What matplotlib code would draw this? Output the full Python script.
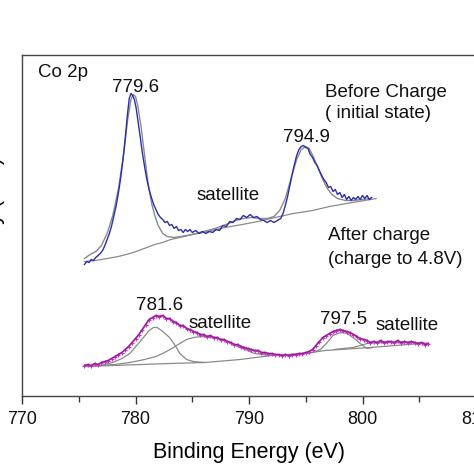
import matplotlib
matplotlib.use("Agg")
import matplotlib.pyplot as plt
from matplotlib.ticker import MultipleLocator

plt.rcParams['font.family'] = ['Liberation Sans', 'DejaVu Sans']

# before charge (initial state), Co 2p
E_before = [775.5, 775.7, 775.9, 776.1, 776.3, 776.5, 776.7, 776.9, 777.1, 777.3,
            777.5, 777.7, 777.9, 778.1, 778.3, 778.5, 778.7, 778.9, 779.1, 779.3,
            779.45, 779.6, 779.75, 779.9, 780.05, 780.2, 780.4, 780.6, 780.8, 781.0,
            781.2, 781.4, 781.6, 781.8, 782.0, 782.2, 782.4, 782.6, 782.8, 783.0,
            783.2, 783.4, 783.6, 783.8, 784.0, 784.2, 784.4, 784.6, 784.8, 785.0,
            785.3, 785.6, 785.9, 786.2, 786.5, 786.8, 787.1, 787.4, 787.7, 788.0,
            788.3, 788.6, 788.9, 789.2, 789.5, 789.8, 790.1, 790.4, 790.7, 791.0,
            791.3, 791.6, 791.9, 792.2, 792.5, 792.8, 793.0, 793.2, 793.4, 793.6,
            793.8, 794.0, 794.2, 794.4, 794.6, 794.8, 795.0, 795.2, 795.4, 795.6,
            795.8, 796.0, 796.2, 796.4, 796.6, 796.8, 797.0, 797.2, 797.4, 797.6,
            797.8, 798.0, 798.2, 798.4, 798.6, 798.8, 799.0, 799.2, 799.4, 799.6,
            799.8, 800.0, 800.2, 800.4, 800.6, 800.8]
I_before = [131, 134, 133, 136, 135, 138, 140, 142, 145, 150,
            156, 162, 170, 180, 190, 203, 218, 236, 258, 282,
            297, 302, 300, 296, 288, 276, 260, 243, 229, 216,
            206, 198, 191, 186, 181, 178, 176, 173, 174, 170,
            171, 167, 169, 165, 166, 163, 166, 164, 166, 163,
            165, 162, 164, 162, 164, 163, 166, 165, 170, 169,
            174, 173, 177, 176, 180, 178, 181, 178, 179, 176,
            175, 173, 175, 173, 175, 177, 182, 190, 199, 210,
            221, 231, 240, 246, 249, 250, 248, 247, 241, 238,
            233, 230, 225, 220, 216, 213, 208, 209, 204, 206,
            201, 203, 198, 201, 196, 199, 195, 198, 196, 199,
            196, 200, 197, 200, 196, 198]

E_before_fit = [775.5, 776.0, 776.5, 777.0, 777.5, 778.0, 778.5, 779.0, 779.3, 779.6,
                779.8, 780.0, 780.2, 780.5, 780.8, 781.1, 781.4, 781.7, 782.0, 782.4,
                782.8, 783.4, 784.0, 785.0, 786.0, 787.0, 788.0, 788.8, 789.5, 790.2,
                790.9, 791.6, 792.2, 792.7, 793.2, 793.7, 794.2, 794.6, 795.0, 795.3,
                795.7, 796.1, 796.5, 796.9, 797.3, 797.8, 798.5, 799.2, 800.0, 800.7]
I_before_fit = [137, 141, 144, 150, 162, 180, 207, 245, 275, 296,
                301, 299, 290, 268, 240, 213, 193, 180, 170, 162,
                159, 158, 159, 161, 164, 167, 171, 175, 177, 178,
                177, 177, 179, 185, 197, 217, 236, 246, 249, 247,
                238, 227, 216, 207, 201, 197, 195, 195, 196, 197]

E_before_bg = [775.5, 776.5, 777.5, 778.5, 779.5, 780.3, 781.0, 781.7, 782.4, 783.1,
               783.9, 785.0, 786.4, 787.9, 789.4, 790.8, 792.3, 793.9, 795.6, 797.1,
               798.6, 800.7, 801.2]
I_before_bg = [134, 135, 137, 139, 142, 145, 148, 151, 153, 156,
               158, 161, 164, 168, 171, 174, 178, 182, 185, 189,
               192, 196, 197]

# after charge to 4.8 V
E_after = [775.5, 775.8, 776.1, 776.4, 776.7, 777.0, 777.3, 777.6, 777.9, 778.2,
           778.5, 778.8, 779.1, 779.4, 779.7, 780.0, 780.3, 780.6, 780.9, 781.2,
           781.5, 781.8, 782.1, 782.4, 782.7, 783.0, 783.3, 783.6, 783.9, 784.2,
           784.5, 784.8, 785.1, 785.4, 785.7, 786.0, 786.3, 786.6, 786.9, 787.2,
           787.5, 787.8, 788.1, 788.4, 788.7, 789.0, 789.3, 789.6, 789.9, 790.2,
           790.5, 790.8, 791.1, 791.4, 791.7, 792.0, 792.3, 792.6, 792.9, 793.2,
           793.5, 793.8, 794.1, 794.4, 794.7, 795.0, 795.3, 795.6, 795.9, 796.2,
           796.5, 796.8, 797.1, 797.4, 797.7, 798.0, 798.3, 798.6, 798.9, 799.2,
           799.5, 799.8, 800.1, 800.4, 800.7, 801.0, 801.3, 801.6, 801.9, 802.2,
           802.5, 802.8, 803.1, 803.4, 803.7, 804.0, 804.3, 804.6, 804.9, 805.2,
           805.5, 805.8]
I_after = [30, 31, 30, 32, 31, 33, 34, 35, 37, 39,
           41, 43, 46, 49, 53, 57, 61, 66, 71, 76,
           78, 80, 79, 80, 77, 77, 74, 73, 70, 70,
           67, 66, 64, 63, 61, 61, 59, 60, 58, 58,
           56, 56, 54, 53, 51, 51, 49, 48, 47, 46,
           45, 45, 43, 43, 42, 42, 41, 41, 40, 41,
           40, 41, 41, 42, 42, 43, 44, 46, 50, 54,
           58, 60, 62, 64, 65, 66, 65, 64, 63, 61,
           59, 57, 56, 55, 53, 54, 53, 55, 53, 54,
           54, 53, 55, 53, 54, 53, 54, 53, 52, 53,
           51, 52]

E_after_bg = [775.5, 778.0, 780.5, 783.0, 786.1, 789.2, 792.0, 794.9, 796.7, 800.7,
              805.1, 805.8]
I_after_bg = [29, 30, 31, 32, 33, 36, 40, 42, 45, 48, 52, 52]

E_comp1 = [775.5, 776.9, 778.0, 778.8, 779.5, 780.1, 780.7, 781.2, 781.6, 781.9,
           782.3, 782.6, 783.0, 783.5, 783.9, 784.5, 785.1, 786.1]
I_comp1 = [29, 30, 33, 37, 42, 50, 58, 65, 68, 68,
           65, 62, 58, 50, 42, 36, 34, 33]

E_comp2 = [776.9, 778.2, 779.5, 780.8, 781.8, 782.4, 783.2, 783.9, 784.5, 785.1,
           785.8, 786.6, 787.2, 787.9, 788.6, 789.2, 790.5, 791.8]
I_comp2 = [30, 31, 33, 36, 39, 42, 47, 52, 56, 58,
           59, 58, 57, 55, 51, 48, 42, 40]

E_comp3 = [794.9, 795.6, 796.3, 796.9, 797.4, 797.8, 798.2, 798.6, 798.9, 799.4,
           799.8, 800.4, 800.9]
I_comp3 = [42, 43, 46, 53, 60, 62, 63, 62, 60, 56, 52, 47, 48]

E_comp4 = [797.5, 798.3, 799.2, 799.8, 800.4, 801.2, 802.2, 803.5, 805.1, 805.8]
I_comp4 = [46, 47, 48, 50, 52, 53, 53, 53, 53, 52]

gray = '#8a8a8a'

fig = plt.figure(figsize=(4.74, 4.74), dpi=100)
ax = fig.add_axes([22 / 474, 78.5 / 474, 454 / 474, 340.5 / 474])

# lower spectrum: background + fitted components, then data
ax.plot(E_after_bg, I_after_bg, color=gray, lw=0.9)
ax.plot(E_comp1, I_comp1, color=gray, lw=0.9)
ax.plot(E_comp2, I_comp2, color=gray, lw=0.9)
ax.plot(E_comp3, I_comp3, color=gray, lw=0.9)
ax.plot(E_comp4, I_comp4, color=gray, lw=0.9)
ax.plot(E_after, I_after, color='#d02cd0', lw=1.3, marker='+', ms=3.5, mew=0.8)
ax.plot(E_after, I_after, color='#6a2a6a', lw=0.6)

# upper spectrum
ax.plot(E_before_bg, I_before_bg, color=gray, lw=0.9)
ax.plot(E_before_fit, I_before_fit, color=gray, lw=1.0)
ax.plot(E_before, I_before, color='#2c2cb0', lw=1.0)

txt = dict(fontsize=13.5, color='#111111')
ax.text(771.4, 318, 'Co 2p', ha='left', va='baseline', **txt)
ax.text(780.0, 303, '779.6', ha='center', va='baseline', **txt)
ax.text(788.15, 195, 'satellite', ha='center', va='baseline', **txt)
ax.text(795.1, 253, '794.9', ha='center', va='baseline', **txt)
ax.text(796.7, 298, 'Before Charge', ha='left', va='baseline', **txt)
ax.text(796.7, 277, '( initial state)', ha='left', va='baseline', **txt)
ax.text(796.95, 155, 'After charge', ha='left', va='baseline', **txt)
ax.text(796.95, 132, '(charge to 4.8V)', ha='left', va='baseline', **txt)
ax.text(782.15, 85, '781.6', ha='center', va='baseline', **txt)
ax.text(787.45, 68, 'satellite', ha='center', va='baseline', **txt)
ax.text(798.3, 72, '797.5', ha='center', va='baseline', **txt)
ax.text(803.9, 65, 'satellite', ha='center', va='baseline', **txt)

ax.set_xlim(770, 810)
ax.set_ylim(0, 340.5)
ax.xaxis.set_major_locator(MultipleLocator(10))
ax.xaxis.set_minor_locator(MultipleLocator(5))
ax.tick_params(axis='x', which='major', direction='out', length=6, width=1,
               labelsize=13, pad=5, colors='#333333', labelcolor='#111111')
ax.tick_params(axis='x', which='minor', direction='out', length=4, width=1,
               colors='#333333')
ax.set_yticks([])
for s in ax.spines.values():
    s.set_color('#444444')
    s.set_linewidth(1.0)

ax.set_xlabel('Binding Energy (eV)', fontsize=15.5, labelpad=10)
ax.set_ylabel('Intensity (a.u.)', fontsize=15.5, labelpad=12)

fig.savefig('out.png', dpi=100)
